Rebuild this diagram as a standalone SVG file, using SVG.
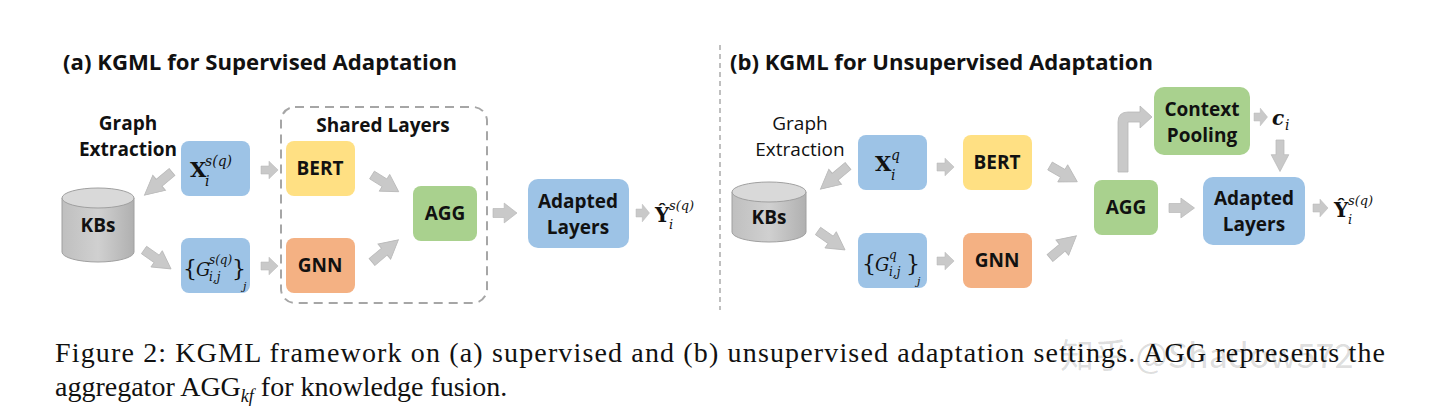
<svg xmlns="http://www.w3.org/2000/svg" width="1440" height="413" viewBox="0 0 1440 413">
<style>
.t{font-family:"Open Sans","Liberation Sans",sans-serif;font-weight:bold;font-size:21px;fill:#111}
.n{font-family:"Open Sans","Liberation Sans",sans-serif;font-size:19px;fill:#111}
.b{font-weight:bold}
.m{font-family:"DejaVu Serif","Liberation Serif",serif;fill:#111}
.cap{font-family:"Liberation Serif","Times New Roman",serif;font-size:28px;fill:#111}
.bl{fill:#9dc3e6}.ye{fill:#ffe083}.or{fill:#f4b183}.gr{fill:#a9d18e}
.arr{fill:#c9c9c9;stroke:#b8b8b8;stroke-width:0.8}
</style>
<defs>
<path id="ba" d="M0,-5 L14,-5 L14,-11 L30,0 L14,11 L14,5 L0,5 Z"/>
<linearGradient id="cyl" x1="0" x2="1"><stop offset="0" stop-color="#bfbfbf"/><stop offset="0.5" stop-color="#d0d0d0"/><stop offset="1" stop-color="#b0b0b0"/></linearGradient>
</defs>
<rect width="1440" height="413" fill="#fff"/>
<text class="t" x="63" y="70" textLength="394" lengthAdjust="spacingAndGlyphs">(a) KGML for Supervised Adaptation</text>
<text class="t" x="730" y="70" textLength="423" lengthAdjust="spacingAndGlyphs">(b) KGML for Unsupervised Adaptation</text>
<line x1="720" y1="45" x2="720" y2="310" stroke="#aaa" stroke-width="1.5" stroke-dasharray="5,4"/>

<g id="connectors">
<rect x="281" y="107" width="206" height="196" rx="14" fill="none" stroke="#a6a6a6" stroke-width="2" stroke-dasharray="9,6"/>
<g class="arr">
<use href="#ba" transform="translate(261,170) scale(0.57,0.8)"/>
<use href="#ba" transform="translate(261,266) scale(0.57,0.8)"/>
<use href="#ba" transform="translate(372,175) rotate(32) scale(1.05,0.9)"/>
<use href="#ba" transform="translate(372,262) rotate(-40) scale(1.15,0.9)"/>
<use href="#ba" transform="translate(172,172) rotate(140) scale(1.2,0.9)"/>
<use href="#ba" transform="translate(144,250) rotate(35) scale(1.1,0.9)"/>
<use href="#ba" transform="translate(493,213) scale(0.8,0.9)"/>
<use href="#ba" transform="translate(636,213) scale(0.45,0.8)"/>

<use href="#ba" transform="translate(937,167) scale(0.57,0.8)"/>
<use href="#ba" transform="translate(937,261) scale(0.57,0.8)"/>
<use href="#ba" transform="translate(848,166) rotate(140) scale(1.2,0.9)"/>
<use href="#ba" transform="translate(818,231) rotate(35) scale(1.1,0.9)"/>
<use href="#ba" transform="translate(1050,166) rotate(30) scale(1.05,0.9)"/>
<use href="#ba" transform="translate(1050,258) rotate(-40) scale(1.15,0.9)"/>
<path d="M1118,172 L1118,122 Q1118,112 1128,112 L1140,112 L1140,106 L1152,117 L1140,128 L1140,122 L1128,122 L1128,172 Z"/>
<use href="#ba" transform="translate(1254,117) scale(0.45,0.8)"/>
<use href="#ba" transform="translate(1280,140) rotate(90) scale(1.05,0.8)"/>
<use href="#ba" transform="translate(1169,208) scale(0.85,0.9)"/>
<use href="#ba" transform="translate(1313,208) scale(0.5,0.8)"/>
</g>
</g>

<g id="a-extract"><text class="n b" x="128" y="130" text-anchor="middle">Graph</text><text class="n b" x="128" y="156" text-anchor="middle">Extraction</text></g>
<g id="a-shared"><text class="n b" x="383" y="132" text-anchor="middle">Shared Layers</text></g>
<g id="a-kbs"><path d="M62,198 L62,252 A36,10 0 0 0 134,252 L134,198 Z" fill="url(#cyl)" stroke="#a0a0a0"/><ellipse cx="98" cy="198" rx="36" ry="10" fill="#d9d9d9" stroke="#a0a0a0"/><text class="n b" x="98" y="232" text-anchor="middle">KBs</text></g>
<g id="a-x"><rect class="bl" x="181" y="141" width="69" height="55" rx="8"/><text class="m" x="190" y="177" font-size="21" font-weight="bold">X</text><text class="m" x="205" y="166" font-size="14" font-style="italic">s(q)</text><text class="m" x="205" y="186" font-size="14" font-style="italic">i</text></g>
<g id="a-g"><rect class="bl" x="181" y="238" width="69" height="55" rx="8"/><text class="m" x="183" y="276" font-size="22">{</text><text class="m" x="196" y="276" font-size="18" font-style="italic">G</text><text class="m" x="209" y="264" font-size="12" font-style="italic">s(q)</text><text class="m" x="209" y="281" font-size="12" font-style="italic">i,j</text><text class="m" x="232" y="276" font-size="22">}</text><text class="m" x="243" y="290" font-size="11" font-style="italic">j</text></g>
<g id="a-bert"><rect class="ye" x="286" y="141" width="69" height="55" rx="8"/><text class="n b" x="320" y="175" text-anchor="middle">BERT</text></g>
<g id="a-gnn"><rect class="or" x="286" y="238" width="69" height="55" rx="8"/><text class="n b" x="320" y="272" text-anchor="middle">GNN</text></g>
<g id="a-agg"><rect class="gr" x="413" y="186" width="64" height="55" rx="8"/><text class="n b" x="445" y="220" text-anchor="middle">AGG</text></g>
<g id="a-adapted"><rect class="bl" x="528" y="179" width="101" height="69" rx="10"/><text class="n b" x="578" y="208" text-anchor="middle">Adapted</text><text class="n b" x="578" y="234" text-anchor="middle">Layers</text></g>
<g id="a-y"><text class="m" x="655" y="222" font-size="20" font-weight="bold">Ŷ</text><text class="m" x="669" y="210" font-size="13" font-style="italic">s(q)</text><text class="m" x="669" y="229" font-size="13" font-style="italic">i</text></g>

<g id="b-extract"><text class="n" x="800" y="130" text-anchor="middle">Graph</text><text class="n" x="800" y="156" text-anchor="middle">Extraction</text></g>
<g id="b-kbs"><path d="M732,192 L732,232 A37,10 0 0 0 806,232 L806,192 Z" fill="url(#cyl)" stroke="#a0a0a0"/><ellipse cx="769" cy="192" rx="37" ry="10" fill="#d9d9d9" stroke="#a0a0a0"/><text class="n b" x="769" y="224" text-anchor="middle">KBs</text></g>
<g id="b-x"><rect class="bl" x="858" y="135" width="69" height="55" rx="8"/><text class="m" x="875" y="171" font-size="21" font-weight="bold">X</text><text class="m" x="891" y="160" font-size="14" font-style="italic">q</text><text class="m" x="891" y="180" font-size="14" font-style="italic">i</text></g>
<g id="b-g"><rect class="bl" x="858" y="233" width="69" height="55" rx="8"/><text class="m" x="862" y="271" font-size="22">{</text><text class="m" x="875" y="271" font-size="18" font-style="italic">G</text><text class="m" x="889" y="259" font-size="12" font-style="italic">q</text><text class="m" x="889" y="276" font-size="12" font-style="italic">i,j</text><text class="m" x="906" y="271" font-size="22">}</text><text class="m" x="917" y="285" font-size="11" font-style="italic">j</text></g>
<g id="b-bert"><rect class="ye" x="963" y="135" width="69" height="55" rx="8"/><text class="n b" x="997" y="169" text-anchor="middle">BERT</text></g>
<g id="b-gnn"><rect class="or" x="963" y="233" width="69" height="55" rx="8"/><text class="n b" x="997" y="267" text-anchor="middle">GNN</text></g>
<g id="b-agg"><rect class="gr" x="1094" y="180" width="64" height="55" rx="8"/><text class="n b" x="1126" y="214" text-anchor="middle">AGG</text></g>
<g id="b-context"><rect class="gr" x="1154" y="87" width="96" height="68" rx="10"/><text class="n b" x="1202" y="116" text-anchor="middle">Context</text><text class="n b" x="1202" y="142" text-anchor="middle">Pooling</text></g>
<g id="b-c"><text class="m" x="1272" y="125" font-size="20" font-weight="bold" font-style="italic">c</text><text class="m" x="1285" y="130" font-size="14" font-style="italic">i</text></g>
<g id="b-adapted"><rect class="bl" x="1203" y="177" width="102" height="68" rx="10"/><text class="n b" x="1254" y="205" text-anchor="middle">Adapted</text><text class="n b" x="1254" y="231" text-anchor="middle">Layers</text></g>
<g id="b-y"><text class="m" x="1334" y="217" font-size="20" font-weight="bold">Ŷ</text><text class="m" x="1348" y="205" font-size="13" font-style="italic">s(q)</text><text class="m" x="1348" y="224" font-size="13" font-style="italic">i</text></g>

<g id="caption">
<text class="cap" x="55" y="362" textLength="1330" lengthAdjust="spacing">Figure 2:  KGML framework on (a) supervised and (b) unsupervised adaptation settings.  AGG represents the</text>
<text class="cap" x="55" y="396">aggregator AGG<tspan font-size="18" font-style="italic" dy="6">kf</tspan><tspan dy="-6"> for knowledge fusion.</tspan></text>
<text x="1060" y="368" font-family="'Noto Sans CJK SC','DejaVu Sans',sans-serif" font-size="34" fill="#000" fill-opacity="0.15">知乎 @Shadow572</text>
</g>
</svg>
